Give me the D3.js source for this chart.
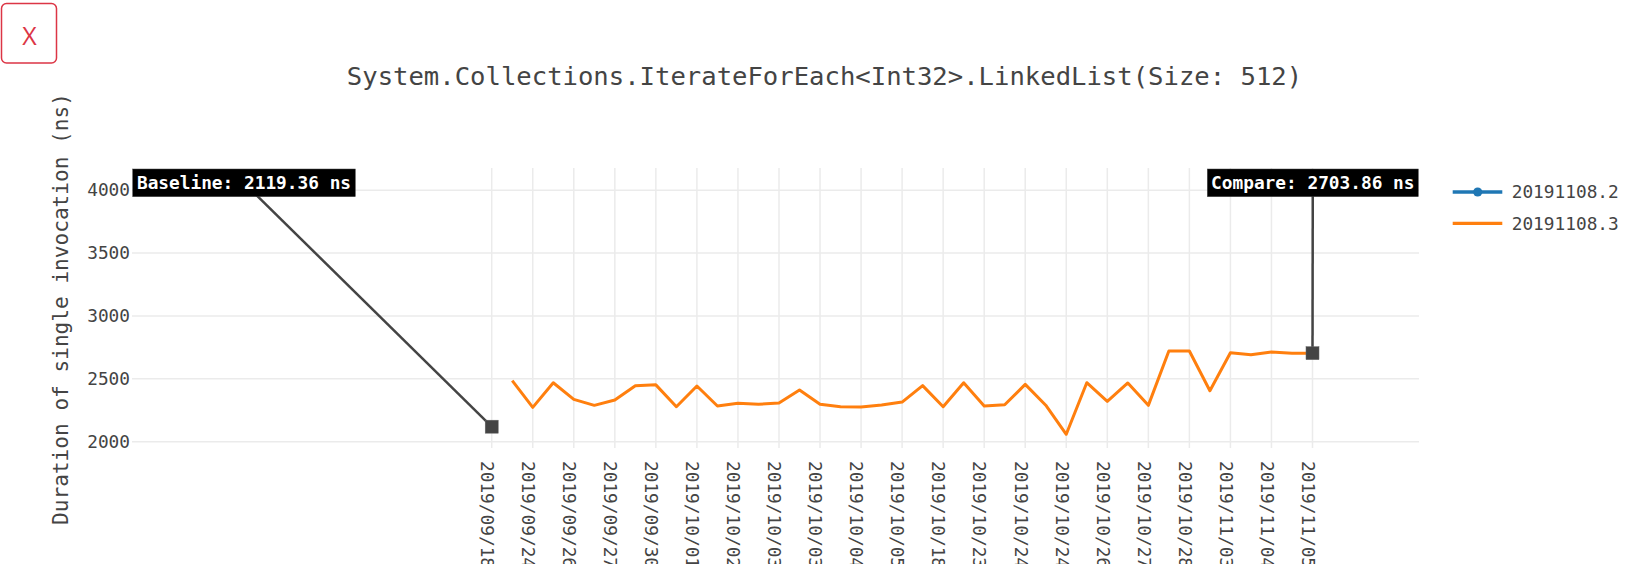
<!DOCTYPE html>
<html><head><meta charset="utf-8">
<script src="https://cdn.jsdelivr.net/npm/d3@7"></script>
<style>body{margin:0;background:#fff;overflow:hidden} svg{display:block}</style>
</head><body>
<svg id="chart" width="1639" height="564"></svg>
<script>
// ---- data ----
const chartTitle = "System.Collections.IterateForEach<Int32>.LinkedList(Size: 512)";
const yAxisTitle = "Duration of single invocation (ns)";
// tick labels shown on every second category (indices 0,2,4,...,40)
const tickLabels = ["2019/09/18","2019/09/24","2019/09/26","2019/09/27","2019/09/30","2019/10/01","2019/10/02","2019/10/03","2019/10/03","2019/10/04","2019/10/05","2019/10/18","2019/10/23","2019/10/24","2019/10/24","2019/10/26","2019/10/27","2019/10/28","2019/11/03","2019/11/04","2019/11/05"];
const yTicks = [2000, 2500, 3000, 3500, 4000];
const seriesNames = ["20191108.2", "20191108.3"];
// series 20191108.2 : category 0
const series2Start = 0;
const series2Values = [2119.36];
// series 20191108.3 : categories 1..40
const series3Start = 1;
const series3Values = [2485,2273,2469,2337,2289,2331,2445,2452,2278,2443,2284,2305,2297,2308,2411,2297,2278,2276,2292,2315,2446,2278,2469,2284,2294,2456,2290,2059,2469,2321,2467,2289,2721,2721,2405,2707,2692,2713,2703,2703.86];
const baselineLabel = "Baseline: 2119.36 ns";
const compareLabel = "Compare: 2703.86 ns";
// axis ranges (category index / value)
const xRange = [-17.53, 45.19];
const yRange = [1950, 4176];

// ---- layout ----
const svg = d3.select("#chart");
const plot = {left: 132, right: 1419, top: 168, bottom: 448};
const mono = "'DejaVu Sans Mono', monospace";
const colors = ["#1f77b4", "#ff7f0e"];

const x = d3.scaleLinear().domain(xRange).range([plot.left, plot.right]);
const y = d3.scaleLinear().domain(yRange).range([plot.bottom, plot.top]);

// close button
const btn = svg.append("g");
btn.append("rect").attr("x", 1.5).attr("y", 3.5).attr("width", 55).attr("height", 59.5)
  .attr("rx", 5).attr("fill", "#fff").attr("stroke", "#dc3545").attr("stroke-width", 1.5);
btn.append("text").attr("x", 29.5).attr("y", 44.5).attr("text-anchor", "middle")
  .attr("font-family", "'Open Sans', sans-serif").attr("font-size", 25).attr("fill", "#dc3545").text("X");

// title
svg.append("text").attr("x", 824.5).attr("y", 85).attr("text-anchor", "middle")
  .attr("font-family", mono).attr("font-size", 25.6).attr("fill", "#444").text(chartTitle);

// gridlines
const tickIdx = tickLabels.map((d, i) => i * 2);
svg.append("g").selectAll("line").data(yTicks).join("line")
  .attr("x1", plot.left).attr("x2", plot.right)
  .attr("y1", d => y(d)).attr("y2", d => y(d))
  .attr("stroke", "#ebebeb").attr("stroke-width", 1.5);
svg.append("g").selectAll("line").data(tickIdx).join("line")
  .attr("x1", d => x(d)).attr("x2", d => x(d))
  .attr("y1", plot.top).attr("y2", plot.bottom)
  .attr("stroke", "#ebebeb").attr("stroke-width", 1.5);

// y axis ticks
const yAxis = d3.axisLeft(y).tickValues(yTicks).tickSize(0).tickPadding(2).tickFormat(d3.format("d"));
const yg = svg.append("g").attr("transform", `translate(${plot.left},0)`).call(yAxis);
yg.select(".domain").remove();
yg.selectAll("text").attr("font-family", mono).attr("font-size", 17.8).attr("fill", "#444");

// x tick labels (rotated 90; cut off by the page bottom as in the original)
svg.append("g").selectAll("text").data(tickLabels).join("text")
  .attr("transform", (d, i) => `translate(${x(i * 2)},461) rotate(90)`)
  .attr("dy", "0.6em")
  .attr("font-family", mono).attr("font-size", 17.8).attr("fill", "#444")
  .text(d => d);

// y axis title
svg.append("text").attr("transform", `translate(68,309) rotate(-90)`)
  .attr("text-anchor", "middle").attr("font-family", mono).attr("font-size", 21.1)
  .attr("fill", "#444").text(yAxisTitle);

// series lines
const line = d3.line().x(d => x(d[0])).y(d => y(d[1]));
const s3 = series3Values.map((v, i) => [series3Start + i, v]);
const s2 = series2Values.map((v, i) => [series2Start + i, v]);
svg.append("path").attr("d", line(s3)).attr("fill", "none")
  .attr("stroke", colors[1]).attr("stroke-width", 3).attr("stroke-linejoin", "round");
svg.append("g").selectAll("circle").data(s2).join("circle")
  .attr("cx", d => x(d[0])).attr("cy", d => y(d[1])).attr("r", 4).attr("fill", colors[0]);

// annotations
function annotate(pt, label, boxLeft, boxWidth) {
  const bx = boxLeft, by = 169, bw = boxWidth, bh = 27.7;
  const cx = bx + bw / 2, cy = by + bh / 2;
  const px = x(pt[0]), py = y(pt[1]);
  const g = svg.append("g");
  g.append("line").attr("x1", cx).attr("y1", cy).attr("x2", px).attr("y2", py)
    .attr("stroke", "#444").attr("stroke-width", 2.5);
  g.append("rect").attr("x", px - 6.5).attr("y", py - 6.5).attr("width", 13).attr("height", 13)
    .attr("fill", "#444").attr("stroke", "#666").attr("stroke-width", 0.5);
  g.append("rect").attr("x", bx).attr("y", by).attr("width", bw).attr("height", bh)
    .attr("fill", "#000").attr("stroke", "#444").attr("stroke-width", 0.5);
  g.append("text").attr("x", cx).attr("y", by + 20.3).attr("text-anchor", "middle")
    .attr("font-family", mono).attr("font-weight", "bold").attr("font-size", 17.8)
    .attr("fill", "#fff").text(label);
}
annotate(s2[0], baselineLabel, 132.7, 222.6);
annotate(s3[s3.length - 1], compareLabel, 1207.3, 211);

// legend
const lg = svg.append("g").attr("transform", "translate(1452.7,192)");
seriesNames.forEach((name, i) => {
  const row = lg.append("g").attr("transform", `translate(0,${i * 31.3})`);
  row.append("line").attr("x1", 0).attr("x2", 49.6).attr("y1", 0).attr("y2", 0)
    .attr("stroke", colors[i]).attr("stroke-width", 3.3);
  if (i === 0) row.append("circle").attr("cx", 25).attr("cy", 0).attr("r", 4.6).attr("fill", colors[i]);
  row.append("text").attr("x", 59).attr("y", 0).attr("dy", "0.35em")
    .attr("font-family", mono).attr("font-size", 17.8).attr("fill", "#444").text(name);
});
</script>
</body></html>
